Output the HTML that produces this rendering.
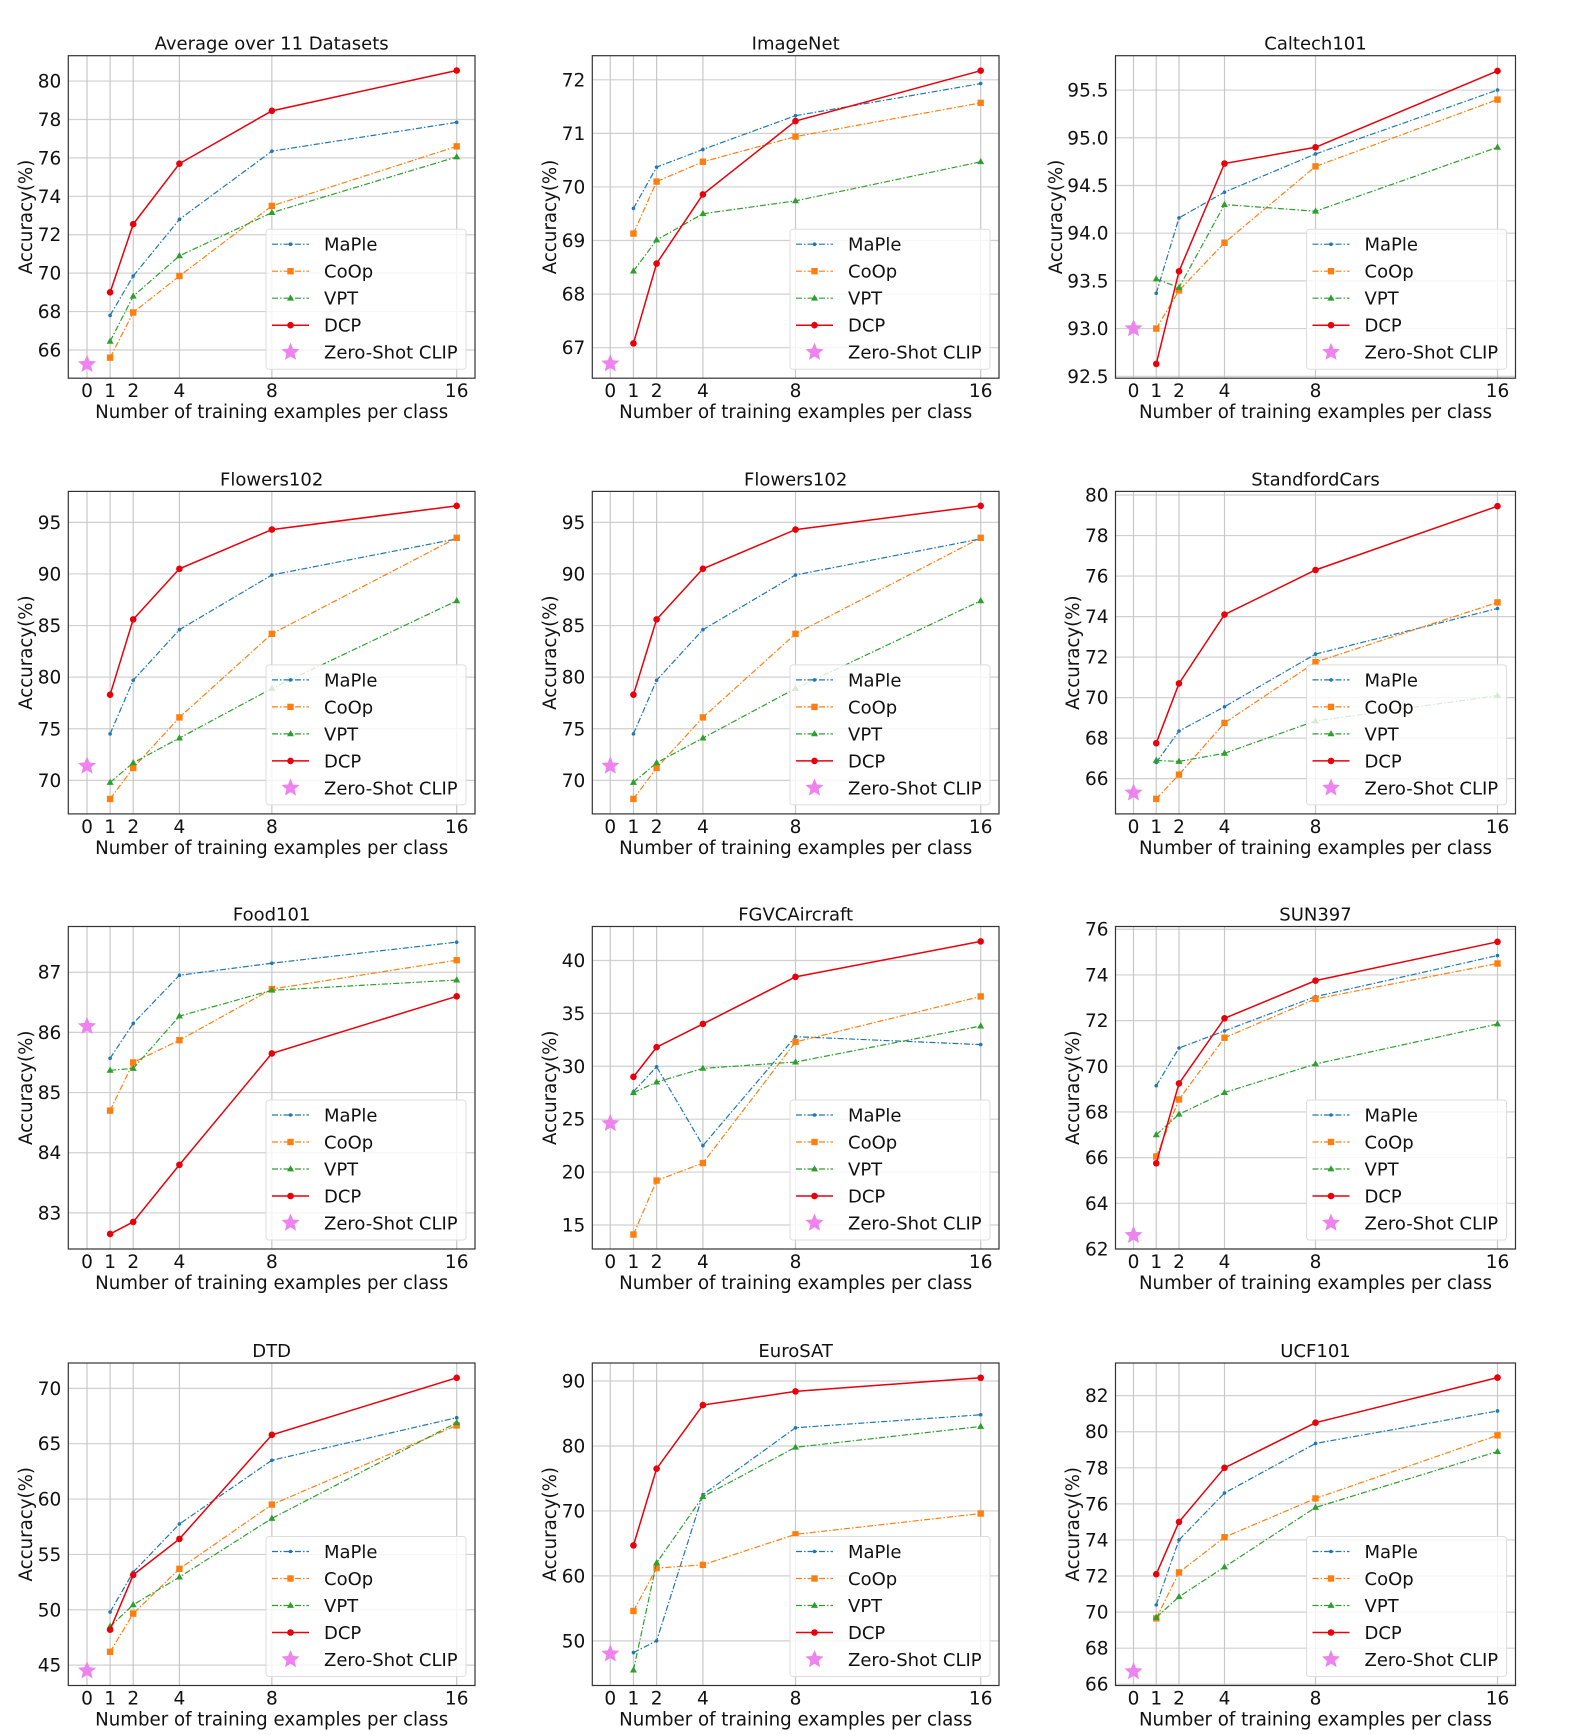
<!DOCTYPE html>
<html><head><meta charset="utf-8"><title>Few-shot accuracy charts</title>
<style>
html,body{margin:0;padding:0;background:#fff;}
svg{display:block;font-family:"DejaVu Sans","Liberation Sans",sans-serif;}
</style></head>
<body>
<svg id="fig" width="1581" height="1735" viewBox="0 0 1581 1735" xmlns="http://www.w3.org/2000/svg"></svg>
<script>
const shots=[1,2,4,8,16];
const xTicks=[0,1,2,4,8,16];
const seriesNames=["MaPle","CoOp","VPT","DCP","Zero-Shot CLIP"];

const avgMaple=[67.8,69.85,72.8,76.35,77.85];
const avgCoop=[65.6,67.95,69.85,73.5,76.6];
const avgVpt=[66.45,68.8,70.9,73.15,76.05];
const avgDcp=[69.0,72.55,75.7,78.45,80.55];
const avgZs=65.25;
const avgTicks=[66,68,70,72,74,76,78,80];

const inMaple=[69.6,70.37,70.7,71.33,71.93];
const inCoop=[69.13,70.1,70.47,70.94,71.57];
const inVpt=[68.43,69.01,69.5,69.74,70.47];
const inDcp=[67.08,68.57,69.86,71.23,72.17];
const inZs=66.7;
const inTicks=[67,68,69,70,71,72];

const calMaple=[93.37,94.16,94.43,94.83,95.5];
const calCoop=[93.0,93.4,93.9,94.7,95.4];
const calVpt=[93.52,93.43,94.3,94.23,94.9];
const calDcp=[92.63,93.6,94.73,94.9,95.7];
const calZs=93.0;
const calTicks=[92.5,93.0,93.5,94.0,94.5,95.0,95.5];

const flMaple=[74.5,79.7,84.6,89.9,93.4];
const flCoop=[68.2,71.2,76.1,84.2,93.5];
const flVpt=[69.8,71.7,74.1,78.9,87.4];
const flDcp=[78.3,85.6,90.5,94.3,96.6];
const flZs=71.4;
const flTicks=[70,75,80,85,90,95];

const carMaple=[66.8,68.35,69.55,72.15,74.4];
const carCoop=[65.0,66.2,68.75,71.75,74.7];
const carVpt=[66.9,66.85,67.25,68.85,70.1];
const carDcp=[67.75,70.7,74.1,76.3,79.45];
const carZs=65.3;
const carTicks=[66,68,70,72,74,76,78,80];

const foodMaple=[85.57,86.15,86.95,87.15,87.5];
const foodCoop=[84.7,85.5,85.87,86.72,87.2];
const foodVpt=[85.37,85.4,86.27,86.7,86.87];
const foodDcp=[82.65,82.85,83.8,85.65,86.6];
const foodZs=86.1;
const foodTicks=[83,84,85,86,87];

const fgMaple=[27.6,29.95,22.5,32.8,32.05];
const fgCoop=[14.1,19.2,20.85,32.3,36.6];
const fgVpt=[27.5,28.5,29.8,30.4,33.8];
const fgDcp=[29.0,31.8,34.0,38.45,41.8];
const fgZs=24.6;
const fgTicks=[15,20,25,30,35,40];

const sunMaple=[69.15,70.8,71.55,73.05,74.85];
const sunCoop=[66.05,68.55,71.25,72.95,74.5];
const sunVpt=[67.0,67.9,68.85,70.1,71.85];
const sunDcp=[65.75,69.25,72.1,73.75,75.45];
const sunZs=62.6;
const sunTicks=[62,64,66,68,70,72,74,76];

const dtdMaple=[49.8,53.4,57.75,63.5,67.35];
const dtdCoop=[46.2,49.65,53.7,59.5,66.65];
const dtdVpt=[48.5,50.45,52.95,58.25,66.9];
const dtdDcp=[48.2,53.15,56.4,65.8,70.95];
const dtdZs=44.5;
const dtdTicks=[45,50,55,60,65,70];

const euMaple=[48.2,50.0,72.5,82.8,84.8];
const euCoop=[54.6,61.2,61.7,66.4,69.6];
const euVpt=[45.5,62.0,72.2,79.8,83.0];
const euDcp=[64.7,76.5,86.3,88.4,90.5];
const euZs=48.0;
const euTicks=[50,60,70,80,90];

const ucfMaple=[70.4,74.0,76.6,79.35,81.15];
const ucfCoop=[69.65,72.2,74.15,76.3,79.8];
const ucfVpt=[69.7,70.85,72.5,75.8,78.9];
const ucfDcp=[72.1,75.0,78.0,80.5,83.0];
const ucfZs=66.7;
const ucfTicks=[66,68,70,72,74,76,78,80,82];

const panels=[
 {t:"Average over 11 Datasets",id:"average",s:[avgMaple,avgCoop,avgVpt,avgDcp],zs:avgZs,ticks:avgTicks,yMin:64.53,yMax:81.32,c:0,r:0,d:0},
 {t:"ImageNet",id:"imagenet",s:[inMaple,inCoop,inVpt,inDcp],zs:inZs,ticks:inTicks,yMin:66.43,yMax:72.45,c:1,r:0,d:0},
 {t:"Caltech101",id:"caltech101",s:[calMaple,calCoop,calVpt,calDcp],zs:calZs,ticks:calTicks,yMin:92.48,yMax:95.86,c:2,r:0,d:1},
 {t:"Flowers102",id:"flowers102",s:[flMaple,flCoop,flVpt,flDcp],zs:flZs,ticks:flTicks,yMin:66.75,yMax:98.0,c:0,r:1,d:0},
 {t:"Flowers102",id:"flowers102-copy",s:[flMaple,flCoop,flVpt,flDcp],zs:flZs,ticks:flTicks,yMin:66.75,yMax:98.0,c:1,r:1,d:0},
 {t:"StandfordCars",id:"stanford-cars",s:[carMaple,carCoop,carVpt,carDcp],zs:carZs,ticks:carTicks,yMin:64.26,yMax:80.18,c:2,r:1,d:0},
 {t:"Food101",id:"food101",s:[foodMaple,foodCoop,foodVpt,foodDcp],zs:foodZs,ticks:foodTicks,yMin:82.40,yMax:87.76,c:0,r:2,d:0},
 {t:"FGVCAircraft",id:"fgvc-aircraft",s:[fgMaple,fgCoop,fgVpt,fgDcp],zs:fgZs,ticks:fgTicks,yMin:12.73,yMax:43.21,c:1,r:2,d:0},
 {t:"SUN397",id:"sun397",s:[sunMaple,sunCoop,sunVpt,sunDcp],zs:sunZs,ticks:sunTicks,yMin:62.0,yMax:76.12,c:2,r:2,d:0},
 {t:"DTD",id:"dtd",s:[dtdMaple,dtdCoop,dtdVpt,dtdDcp],zs:dtdZs,ticks:dtdTicks,yMin:43.16,yMax:72.29,c:0,r:3,d:0},
 {t:"EuroSAT",id:"eurosat",s:[euMaple,euCoop,euVpt,euDcp],zs:euZs,ticks:euTicks,yMin:43.13,yMax:92.77,c:1,r:3,d:0},
 {t:"UCF101",id:"ucf101",s:[ucfMaple,ucfCoop,ucfVpt,ucfDcp],zs:ucfZs,ticks:ucfTicks,yMin:65.93,yMax:83.81,c:2,r:3,d:0}
];

const COLS=[{L:68.3,R:475,x0:87,x16:456.7},{L:592.3,R:999,x0:610.3,x16:980.7},{L:1115.5,R:1515.5,x0:1133.5,x16:1497.5}];
const ROWS=[55.7,491.4,926.5,1363];
const H=322.5;
const COLORS=["#1f77b4","#ff7f0e","#2ca02c","#e8000b"];
const DASH=["6,2,1.5,2","6,2,1.5,2","6,2,1.5,2",""];
const NS="http://www.w3.org/2000/svg";
const svg=document.getElementById("fig");

function mk(tag,attrs,parent){
  const e=document.createElementNS(NS,tag);
  for(const k in attrs)e.setAttribute(k,attrs[k]);
  parent.appendChild(e);
  return e;
}
function starPath(cx,cy,R){
  const r=R*0.45;let p="";
  for(let i=0;i<10;i++){
    const a=-Math.PI/2+i*Math.PI/5;const rr=i%2?r:R;
    p+=(i?"L":"M")+(cx+rr*Math.cos(a)).toFixed(2)+","+(cy+rr*Math.sin(a)).toFixed(2);
  }
  return p+"Z";
}
function marker(g,k,x,y){
  let m;
  if(k===0){m=mk("circle",{cx:x,cy:y,r:1.8,fill:COLORS[0]},g);}
  else if(k===1){m=mk("rect",{x:x-3.2,y:y-3.2,width:6.4,height:6.4,fill:COLORS[1]},g);}
  else if(k===2){m=mk("path",{d:`M${x},${y-3.8}L${x+3.5},${y+2.4}L${x-3.5},${y+2.4}Z`,fill:COLORS[2]},g);}
  else {m=mk("circle",{cx:x,cy:y,r:3.3,fill:COLORS[3]},g);}
  
  
  return m;
}

panels.forEach(p=>{
  const col=COLS[p.c];const top=ROWS[p.r];const bot=top+H;
  const xs=v=>col.x0+(col.x16-col.x0)*v/16;
  const ys=v=>top+(p.yMax-v)/(p.yMax-p.yMin)*H;
  const g=mk("g",{},svg);
  
  
  let maxW=0;
  p.ticks.forEach(t=>{
    const l=mk("line",{x1:col.L,x2:col.R,y1:ys(t),y2:ys(t),stroke:"#d0d0d0","stroke-width":1.2},g);
    
    
    const lbl=p.d?t.toFixed(1):String(t);
    const w=lbl.replace(/\./g,"").length*11.2+(lbl.includes(".")?6:0);
    if(w>maxW)maxW=w;
    const tx=mk("text",{x:col.L-7,y:ys(t)+6.5,"text-anchor":"end","font-size":"18.5",fill:"#111"},g);
    tx.textContent=lbl;
    
    
  });
  xTicks.forEach(t=>{
    const l=mk("line",{x1:xs(t),x2:xs(t),y1:top,y2:bot,stroke:"#c8c8c8","stroke-width":1.2},g);
    
    
    const tx=mk("text",{x:xs(t),y:bot+19,"text-anchor":"middle","font-size":"18.5",fill:"#111"},g);
    tx.textContent=String(t);
    
    
  });
  p.s.forEach((vals,k)=>{
    const pts=vals.map((v,i)=>xs(shots[i]).toFixed(2)+","+ys(v).toFixed(2)).join(" ");
    const pl=mk("polyline",{points:pts,fill:"none",stroke:COLORS[k],"stroke-width":k===3?1.5:1.2},g);
    if(DASH[k])pl.setAttribute("stroke-dasharray",DASH[k]);
    
    
    vals.forEach((v,i)=>marker(g,k,xs(shots[i]),ys(v)));
  });
  const st=mk("path",{d:starPath(xs(0),ys(p.zs),9.5),fill:"#ee82ee"},g);
  
  
  const fr=mk("rect",{x:col.L,y:top,width:col.R-col.L,height:H,fill:"none",stroke:"#333","stroke-width":1.2},g);
  
  
  const ti=mk("text",{x:(col.L+col.R)/2,y:top-6,"text-anchor":"middle","font-size":"18",fill:"#111"},g);
  ti.textContent=p.t;
  
  
  const xl=mk("text",{x:(col.L+col.R)/2,y:bot+40,"text-anchor":"middle","font-size":"18.2",fill:"#111"},g);
  xl.textContent="Number of training examples per class";
  
  
  const yx=col.L-7-maxW-13,yy=(top+bot)/2;
  const yl=mk("text",{x:yx,y:yy,"text-anchor":"middle","font-size":"18.2",fill:"#111",transform:`rotate(-90 ${yx} ${yy})`},g);
  yl.setAttribute("dy","6");
  yl.textContent="Accuracy(%)";
  
  
  const lw=200,lh=140,lx=col.R-9-lw,ly=bot-9-lh;
  const lg=mk("g",{},g);
  
  
  mk("rect",{x:lx,y:ly,width:lw,height:lh,rx:3,fill:"rgba(255,255,255,0.8)",stroke:"#dddddd","stroke-width":1},lg);
  seriesNames.forEach((n,k)=>{
    const cy=ly+15+k*27;
    const e=mk("g",{},lg);
    
    
    if(k<4){
      const ln=mk("line",{x1:lx+6,x2:lx+43,y1:cy,y2:cy,stroke:COLORS[k],"stroke-width":k===3?1.5:1.2},e);
      if(DASH[k])ln.setAttribute("stroke-dasharray",DASH[k]);
      marker(e,k,lx+24.5,cy);
    } else {
      mk("path",{d:starPath(lx+24.5,cy,9.5),fill:"#ee82ee"},e);
    }
    const tx=mk("text",{x:lx+58,y:cy+6.5,"font-size":"18",fill:"#111"},e);
    tx.textContent=n;
  });
});
</script>
</body></html>
